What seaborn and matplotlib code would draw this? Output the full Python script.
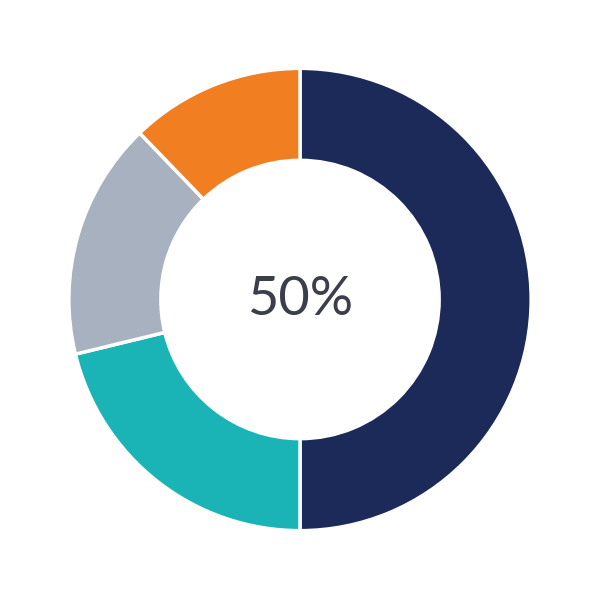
import seaborn as sns
import matplotlib.pyplot as plt

# Share of each segment, clockwise from 12 o'clock
segments = ['Navy', 'Teal', 'Gray', 'Orange']
shares = [50.0, 21.2, 16.6, 12.2]
colors = ['#1b2a59', '#1bb4b6', '#a7b1bf', '#f17f21']
center_label = '50%'

sns.set_theme(style="white")
plt.rcParams['font.family'] = ['Lato', 'DejaVu Sans']

fig = plt.figure(figsize=(6.0, 5.99), dpi=100)
ax = fig.add_axes([0, 0, 1, 1])

# outer radius 1 -> about 230 px
ax.pie(shares, colors=colors, startangle=90, counterclock=False, radius=1.005,
       wedgeprops=dict(width=0.4, edgecolor='white', linewidth=2.5))

ax.text(0, 0.0, center_label, ha='center', va='center', fontsize=39, color='#3b3f4b')

ax.set_xlim(-300 / 230, 300 / 230)
ax.set_ylim(-299.5 / 230, 299.5 / 230)
ax.set_aspect('equal')
ax.axis('off')

fig.savefig('out.png', dpi=100, facecolor='white')
